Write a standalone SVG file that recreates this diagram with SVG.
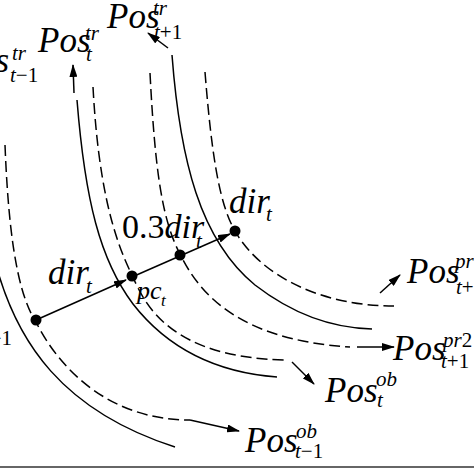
<svg xmlns="http://www.w3.org/2000/svg" width="474" height="474" viewBox="0 0 474 474">
<style>
.s{fill:none;stroke:#000;stroke-width:1.5}
.d{fill:none;stroke:#000;stroke-width:1.5;stroke-dasharray:11,5}
.a{fill:none;stroke:#000;stroke-width:1.5;marker-end:url(#ah)}
.m{font-family:"Liberation Serif","Times New Roman",serif;font-size:35px;fill:#000}
.i{font-style:italic}
.sm{font-size:21px}
</style>
<defs>
<marker id="ah" viewBox="0 0 13 8" refX="12" refY="4" markerWidth="13" markerHeight="8" markerUnits="userSpaceOnUse" orient="auto">
<path d="M0,0 L13,4 L0,8 z" fill="#000"/>
</marker>
</defs>
<rect width="474" height="474" fill="#fff"/>
<g id="curves">
<path class="s" d="M-2,272 C18,340 60,410 175,447"/>
<path class="d" d="M5,145 C8,220 15,290 36,322 C60,370 110,420 190,420"/>
<path class="s" d="M77,100 C85,200 100,260 133,304 C165,345 210,372 277,377"/>
<path class="d" d="M93,87 C98,180 112,235 132,275 C145,305 170,357 284,360"/>
<path class="d" d="M150,73 C155,170 162,220 180,254 C200,295 240,340 350,347"/>
<path class="s" d="M172,55 C180,160 200,240 255,285 C290,312 330,328 372,329"/>
<path class="d" d="M205,72 C212,160 220,205 235,231 C260,275 320,306 394,306"/>
</g>
<g id="connectors">
<path class="a" d="M74,93 L73,65"/>
<path class="a" d="M168,48 L148,33"/>
<path class="a" d="M380,293 L400,275"/>
<path class="a" d="M357,347 L394,347"/>
<path class="a" d="M292,362 L314,384"/>
<path class="a" d="M190,420 L239,431"/>
<path class="a" d="M36,320 L126,280"/>
<path class="a" d="M132,277 L230,234"/>
</g>
<g id="points">
<circle id="p0" cx="36" cy="320" r="5.5"/>
<circle id="pc" cx="132" cy="276" r="5.5"/>
<circle id="p03" cx="180" cy="255" r="5.5"/>
<circle id="pdir" cx="235" cy="231" r="5.5"/>
</g>
<g id="labels" class="m">
<g id="pos-tr-tm1"><text x="9" y="72" text-anchor="end" class="i">Pos</text><text x="12" y="60" class="sm i">tr</text><text x="10" y="82" class="sm"><tspan class="i">t</tspan>−1</text></g>
<g id="pos-tr-t"><text x="38" y="52" class="i">Pos</text><text x="85" y="40" class="sm i">tr</text><text x="86" y="61" class="sm i">t</text></g>
<g id="pos-tr-tp1"><text x="107" y="28" class="i">Pos</text><text x="153" y="15" class="sm i">tr</text><text x="154" y="39" class="sm"><tspan class="i">t</tspan>+1</text></g>
<g id="pos-pr1"><text x="407" y="283" class="i">Pos</text><text x="455" y="268" class="sm i">pr</text><text x="456" y="294" class="sm"><tspan class="i">t</tspan>+1</text></g>
<g id="pos-pr2"><text x="393" y="360" class="i">Pos</text><text x="443" y="347" class="sm"><tspan class="i">pr</tspan>2</text><text x="441" y="368" class="sm"><tspan class="i">t</tspan>+1</text></g>
<g id="pos-ob-t"><text x="325" y="402" class="i">Pos</text><text x="376" y="386" class="sm i">ob</text><text x="377" y="407" class="sm i">t</text></g>
<g id="pos-ob-tm1"><text x="245" y="452" class="i">Pos</text><text x="296" y="438" class="sm i">ob</text><text x="295" y="458" class="sm"><tspan class="i">t</tspan>−1</text></g>
<g id="left-tm1"><text x="12" y="345" text-anchor="end" class="sm"><tspan class="i">t</tspan>−1</text></g>
<g id="dir-left"><text x="48" y="284" class="i">dir</text><text x="86" y="293" class="sm i">t</text></g>
<g id="dir-03"><text x="122" y="238" font-size="34">0.3<tspan class="i">dir</tspan></text><text x="196" y="248" class="sm i">t</text></g>
<g id="dir-right"><text x="229" y="213" class="i">dir</text><text x="266" y="221" class="sm i">t</text></g>
<g id="pc-t"><text x="137" y="299" class="i" font-size="26">pc</text><text x="161" y="306" class="i" font-size="17">t</text></g>
</g>
<line x1="0" y1="467" x2="474" y2="467" stroke="#333" stroke-width="1.6"/>
</svg>
